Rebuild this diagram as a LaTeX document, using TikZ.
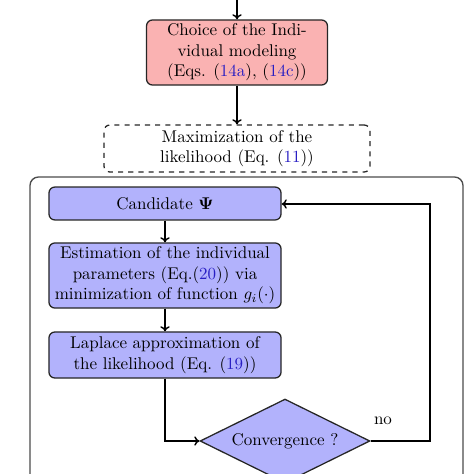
\documentclass[tikz,border=0pt]{standalone}
\usetikzlibrary{shapes.geometric,arrows.meta}
\definecolor{eqblue}{RGB}{40,30,195}
\definecolor{pinkfill}{RGB}{250,178,178}
\definecolor{bluefill}{RGB}{178,178,252}
\newcommand{\eqn}[1]{\textcolor{eqblue}{#1}}
\begin{document}
\begin{tikzpicture}[x=0.5886pt,y=-0.5886pt,
  box/.style={draw=black!85, line width=0.75pt, rounded corners=3.5pt, align=center, inner sep=1pt},
  pinkbox/.style={box, fill=pinkfill},
  bluebox/.style={box, fill=bluefill},
  dashbox/.style={draw=black!85, line width=0.75pt, dashed, rounded corners=3.5pt, align=center, inner sep=1pt},
  decision/.style={diamond, draw=black!85, line width=0.75pt, fill=bluefill, inner sep=0pt, align=center},
  conn/.style={line width=0.85pt, black},
  arr/.style={conn, -{To[length=3pt,width=5.5pt]}}
]
\useasboundingbox (0,0) rectangle (474,474);
% outer frame
\draw[line width=0.8pt, draw=black!70, rounded corners=5pt] (30,177) rectangle (463,520);

\node[pinkbox, minimum width=106.5pt, minimum height=38.3pt] (choice) at (237,52.5)
  {Choice of the Indi-\\vidual modeling\\(Eqs. (\eqn{14a}), (\eqn{14c}))};
\node[dashbox, minimum width=156.6pt, minimum height=27.7pt] (max) at (237,148.5)
  {Maximization of the\\likelihood (Eq. (\eqn{11}))};
\node[bluebox, minimum width=136.6pt, minimum height=19.4pt] (cand) at (165,203.5)
  {Candidate $\mathbf{\Psi}$};
\node[bluebox, minimum width=136.6pt, minimum height=38.3pt] (est) at (165,275.5)
  {Estimation of the individual\\parameters (Eq.(\eqn{20})) via\\minimization of function $g_i(\cdot)$};
\node[bluebox, minimum width=136.6pt, minimum height=27.1pt] (lap) at (165,355)
  {Laplace approximation of\\the likelihood (Eq. (\eqn{19}))};
\node[decision, minimum width=100pt, minimum height=49.4pt] (conv) at (285,441)
  {\makebox[0pt]{Convergence ?}};
\node (no) at (383,421) {no};

\coordinate (top) at (237,-2);
\coordinate (c1) at (165,441);
\coordinate (r1) at (430,441);
\coordinate (r2) at (430,204);

\draw[arr] (top) -- (choice.north);
\draw[arr] (choice.south) -- (max.north);
\draw[arr] (cand.south) -- (est.north);
\draw[arr] (est.south) -- (lap.north);
\draw[arr] (lap.south) -- (c1) -- (conv.west);
\draw[arr] (conv.east) -- (r1) -- (r2) -- (cand.east |- r2);
\end{tikzpicture}
\end{document}
